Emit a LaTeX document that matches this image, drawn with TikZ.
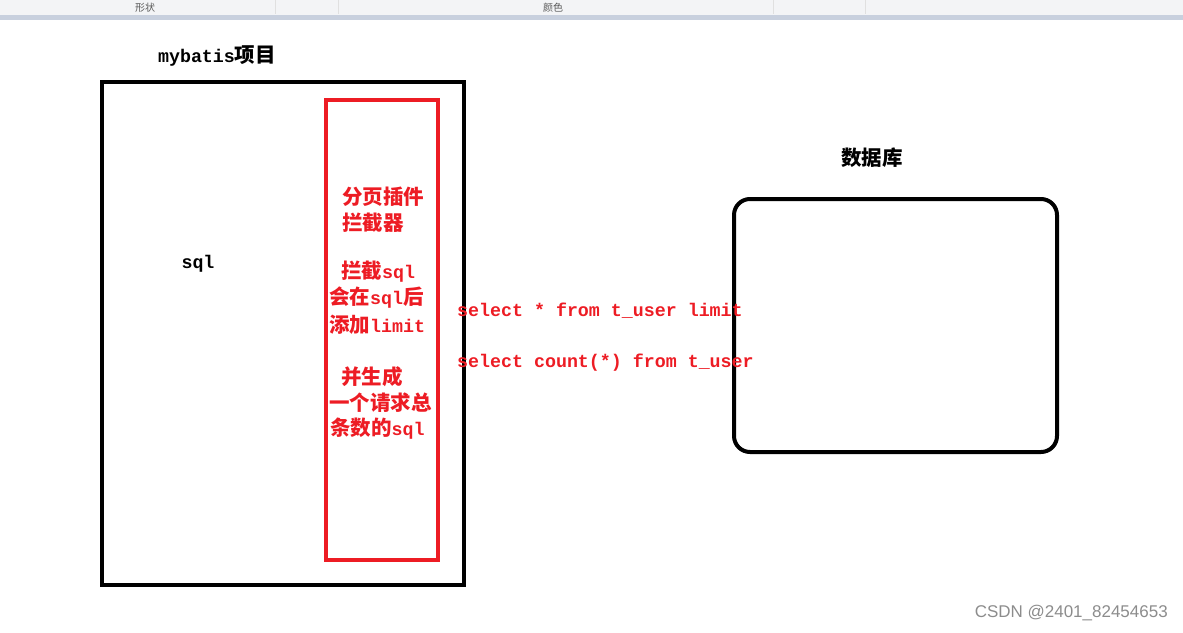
\documentclass[tikz,border=0pt]{standalone}
\usepackage{fontspec}
\usepackage{tikz}
\newfontfamily\cjkfont{Noto Sans CJK SC}
\newfontfamily\mono{Liberation Mono}
\newfontfamily\wmark{Liberation Sans}
\newcommand\cjk{\cjkfont\fontsize{20.5}{22}\selectfont}
\definecolor{plugred}{HTML}{ED1C24}
\definecolor{barfill}{HTML}{F3F4F6}
\definecolor{barline}{HTML}{C8D0DE}

\begin{document}
\begin{tikzpicture}[x=1pt,y=-1pt,
  every node/.style={inner sep=0pt,font=\bfseries\fontsize{18.3}{22}\selectfont},
  redtext/.style={text=plugred,anchor=west}]
  \useasboundingbox (0,0) rectangle (1183,632);
  % toolbar strip at the top
  \fill[barfill] (0,0) rectangle (1183,15);
  \fill[barline] (0,15) rectangle (1183,20);
  \foreach \position in {275,338,773,865}
    \draw[black!12] (\position,0) -- (\position,14);
  \node[font=\cjkfont\fontsize{10}{12}\selectfont,text=black!65] (shape) at (145,7.5) {形状};
  \node[font=\cjkfont\fontsize{10}{12}\selectfont,text=black!65] (colour) at (553,7.5) {颜色};
  % boxes
  \draw[line width=4pt] (102,82) rectangle (464,585);
  \draw[plugred,line width=4pt] (326,100) rectangle (438,560);
  \draw[line width=4pt,rounded corners=16pt] (734,199) rectangle (1057,452);
  % labels
  \node (project) at (217,56) {{\mono mybatis}{\cjk 项目}};
  \node (sql) at (198,264) {\mono sql};
  \node (db) at (872,158) {\cjk 数据库};
  \foreach \position/\ypos/\entry [count=\i] in {
      342/197/{\cjk 分页插件},
      342/223/{\cjk 拦截器},
      341/272/{{\cjk 拦截}{\mono sql}},
      329/298/{{\cjk 会在}{\mono sql}{\cjk 后}},
      329/325/{{\cjk 添加}{\mono limit}},
      341/377/{\cjk 并生成},
      329/403/{\cjk 一个请求总},
      330/429/{{\cjk 条数的}{\mono sql}}}
    \node[redtext] (plug\i) at (\position,\ypos) {\entry};
  \node[redtext] (query) at (457,311) {\mono select * from t\_user limit};
  \node[redtext] (count) at (457,363) {\mono select count(*) from t\_user};
  \node[anchor=east,text=black!45,font=\wmark\fontsize{17}{20}\selectfont] (mark) at (1168,613) {CSDN @2401\_82454653};
\end{tikzpicture}
\end{document}
